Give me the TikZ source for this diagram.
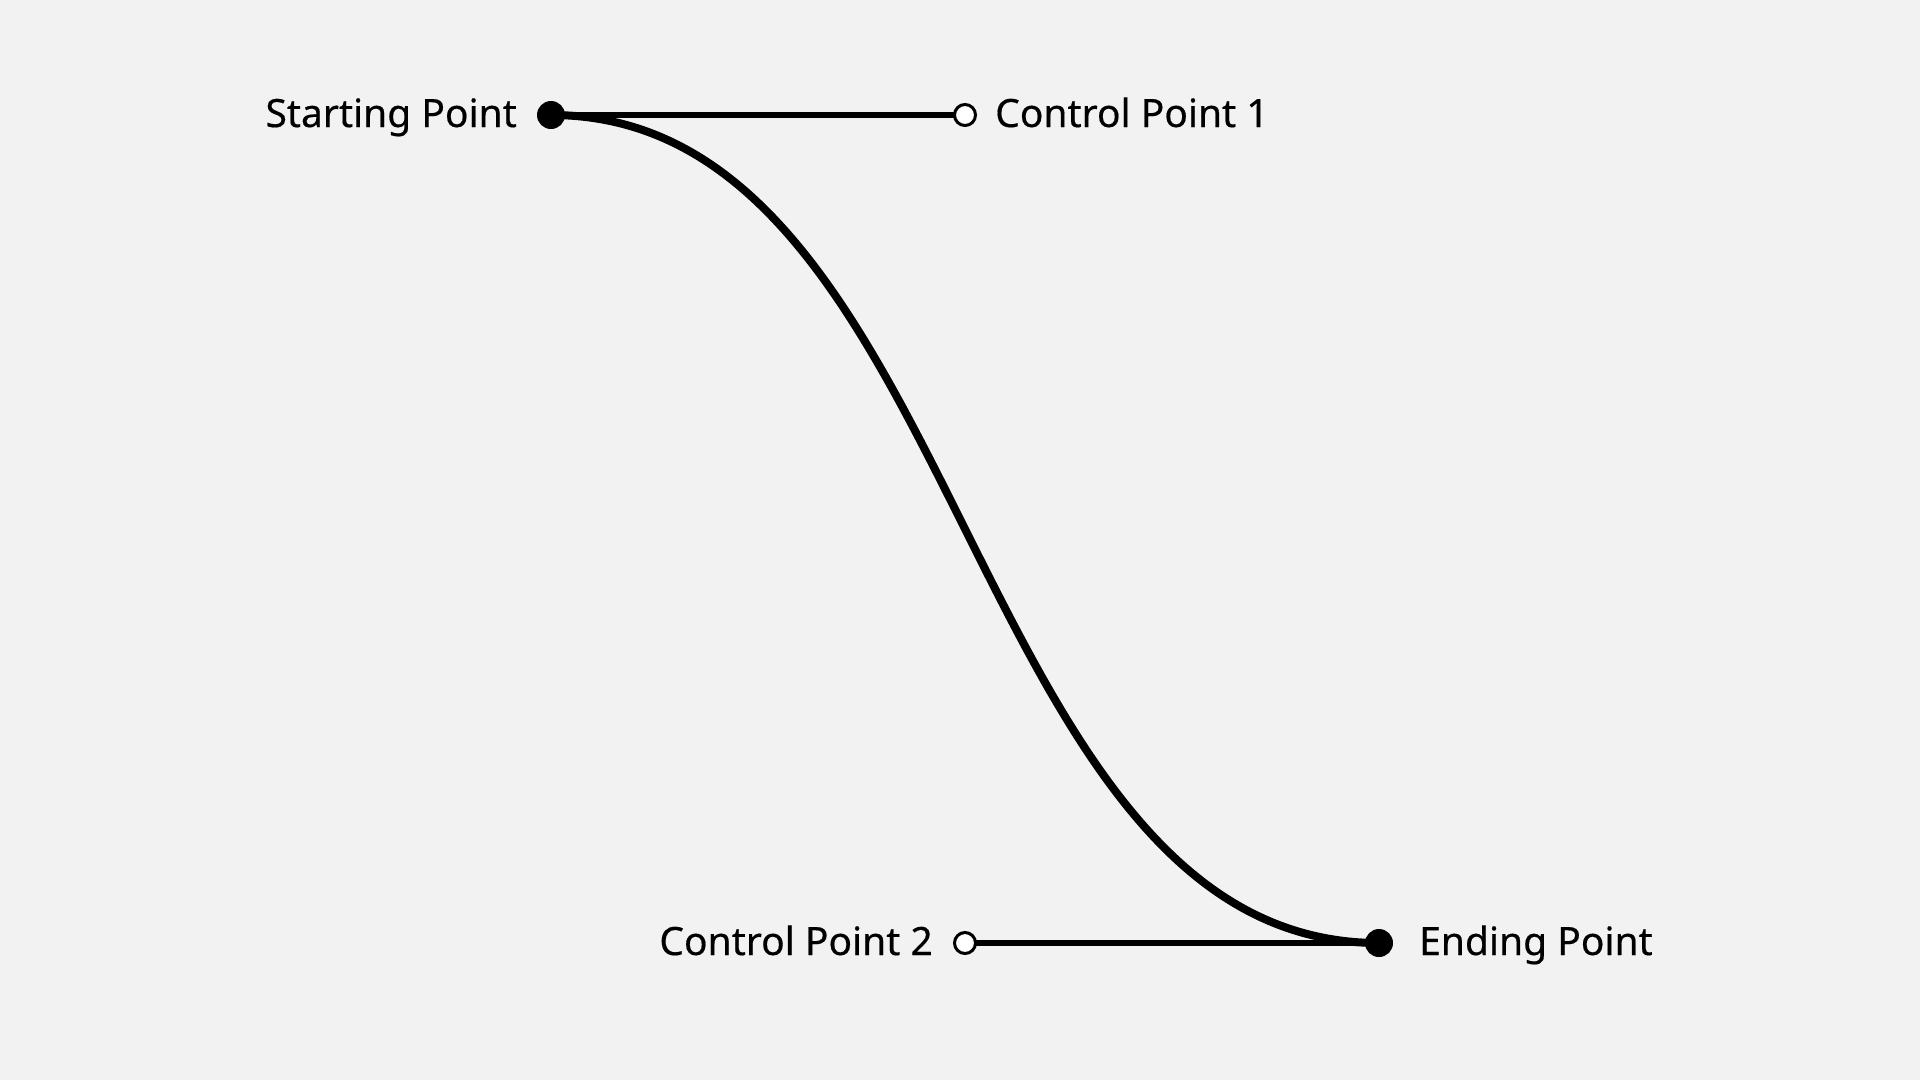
\documentclass[tikz,border=0pt]{standalone}
\usepackage{fontspec}
\setmainfont{Noto Sans}
\newfontfamily\lblfont{Noto Sans}[FakeBold=0.4]
\begin{document}
\begin{tikzpicture}[x=1pt,y=-1pt,
  lbl/.style={font=\lblfont\fontsize{39}{46}\selectfont, text=black, inner sep=0pt},
  endpt/.style={circle, fill=black, minimum size=28pt, inner sep=0pt},
  ctrlpt/.style={circle, draw=black, fill=white, line width=3pt, minimum size=21pt, inner sep=0pt},
  handle/.style={line width=6pt, black},
  curveline/.style={line width=8pt, black}]
\fill[fill={rgb,255:red,242;green,242;blue,242}] (0,0) rectangle (1920,1080);
\useasboundingbox (0,0) rectangle (1920,1080);
\coordinate (S) at (551,115);
\coordinate (C1) at (965,115);
\coordinate (C2) at (965,943);
\coordinate (E) at (1379,943);
\draw[handle] (S) -- (C1);
\draw[handle] (C2) -- (E);
\draw[curveline] (S) .. controls (C1) and (C2) .. (E);
\node[endpt] (sp) at (S) {};
\node[endpt] (ep) at (E) {};
\node[ctrlpt] (cp1) at (C1) {};
\node[ctrlpt] (cp2) at (C2) {};
\node[lbl, anchor=base east] (tsp) at (517,127) {Starting Point};
\node[lbl, anchor=base west] (tcp1) at (995,127) {Control Point 1};
\node[lbl, anchor=base east] (tcp2) at (933,955) {Control Point 2};
\node[lbl, anchor=base west] (tep) at (1419,955) {Ending Point};
\end{tikzpicture}
\end{document}
